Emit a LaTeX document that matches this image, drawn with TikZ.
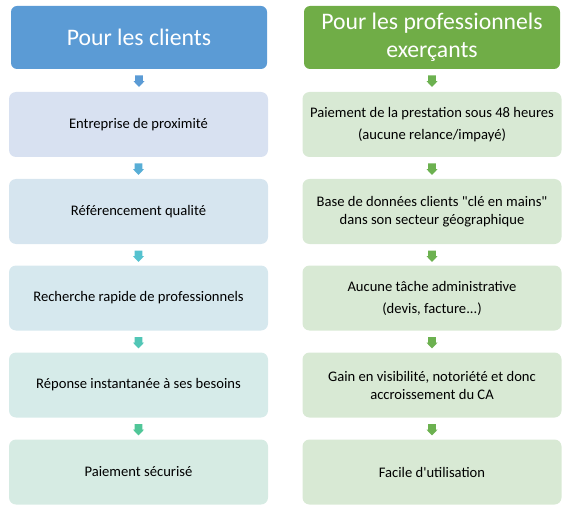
\documentclass[tikz,border=0pt]{standalone}
\usepackage{fontspec}
\setmainfont{Carlito}[Ligatures=TeXOff]
\definecolor{hdrblue}{HTML}{5B9BD5}
\definecolor{hdrgreen}{HTML}{70AD47}
\definecolor{lb1}{HTML}{D8E1F1}
\definecolor{lb2}{HTML}{D6E5EF}
\definecolor{lb3}{HTML}{D6E8EE}
\definecolor{lb4}{HTML}{D6EBE9}
\definecolor{lb5}{HTML}{D6EBE3}
\definecolor{rb}{HTML}{D8E9D4}
\definecolor{la1}{HTML}{5B9BD5}
\definecolor{la2}{HTML}{58AED6}
\definecolor{la3}{HTML}{55C2CF}
\definecolor{la4}{HTML}{52C6B6}
\definecolor{la5}{HTML}{50C698}
\definecolor{ra}{HTML}{6CB150}
\tikzset{
  hdr/.style={rounded corners=6pt, minimum width=256pt, minimum height=63pt, text=white, font=\fontsize{23.7}{28}\selectfont, align=center, inner sep=0pt},
  itembox/.style={rounded corners=7pt, minimum width=259pt, minimum height=65pt, text=black, font=\fontsize{14.6}{18}\selectfont, align=center, inner sep=0pt}
}
\newcommand{\blockarr}[2]{%
  \fill[#2] ([xshift=-3.8pt]#1) -- ([xshift=3.8pt]#1) -- ([xshift=3.8pt,yshift=-5.7pt]#1) -- ([xshift=5.5pt,yshift=-5.7pt]#1) -- ([yshift=-11.4pt]#1) -- ([xshift=-5.5pt,yshift=-5.7pt]#1) -- ([xshift=-3.8pt,yshift=-5.7pt]#1) -- cycle;}
\begin{document}
\begin{tikzpicture}[x=1pt,y=-1pt]
\useasboundingbox (0,0) rectangle (575,513);
% left column
\node[hdr, fill=hdrblue] (lh) at (139,37.5) {Pour les clients};
\node[itembox, fill=lb1] (l1) at (138.5,124.5) {Entreprise de proximité};
\node[itembox, fill=lb2] (l2) at (138.5,211.5) {Référencement qualité};
\node[itembox, fill=lb3] (l3) at (138.5,298) {Recherche rapide de professionnels};
\node[itembox, fill=lb4] (l4) at (138.5,385) {Réponse instantanée à ses besoins};
\node[itembox, fill=lb5] (l5) at (138.5,472) {Paiement sécurisé};
% right column
\node[hdr, fill=hdrgreen] (rh) at (432,37.5) {Pour les professionnels\\exerçants};
\node[itembox, fill=rb, font=\fontsize{14.6}{22}\selectfont] (r1) at (432,124.5) {Paiement de la prestation sous 48 heures\\(aucune relance/impayé)};
\node[itembox, fill=rb] (r2) at (432,211.5) {Base de données clients "clé en mains"\\dans son secteur géographique};
\node[itembox, fill=rb, font=\fontsize{14.6}{22}\selectfont] (r3) at (432,298) {Aucune tâche administrative\\(devis, facture...)};
\node[itembox, fill=rb] (r4) at (432,385) {Gain en visibilité, notoriété et donc\\accroissement du CA};
\node[itembox, fill=rb] (r5) at (432,472) {Facile d'utilisation};
% arrows
\coordinate (la) at ([yshift=-6.3pt]lh.south);
\coordinate (lb) at ([yshift=-6.3pt]l1.south);
\coordinate (lc) at ([yshift=-6.3pt]l2.south);
\coordinate (ld) at ([yshift=-6.3pt]l3.south);
\coordinate (le) at ([yshift=-6.3pt]l4.south);
\blockarr{la}{la1}
\blockarr{lb}{la2}
\blockarr{lc}{la3}
\blockarr{ld}{la4}
\blockarr{le}{la5}
\coordinate (ra1) at ([yshift=-6.3pt]rh.south);
\coordinate (rb1) at ([yshift=-6.3pt]r1.south);
\coordinate (rc1) at ([yshift=-6.3pt]r2.south);
\coordinate (rd1) at ([yshift=-6.3pt]r3.south);
\coordinate (re1) at ([yshift=-6.3pt]r4.south);
\blockarr{ra1}{ra}
\blockarr{rb1}{ra}
\blockarr{rc1}{ra}
\blockarr{rd1}{ra}
\blockarr{re1}{ra}
\end{tikzpicture}
\end{document}
